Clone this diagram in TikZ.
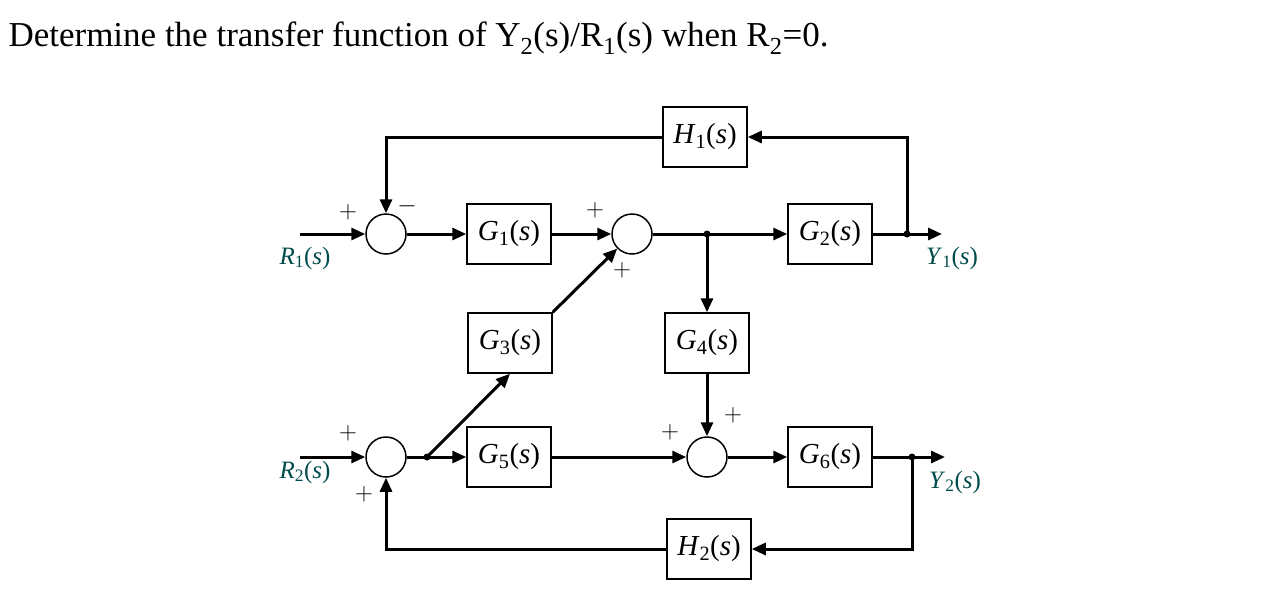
\documentclass[tikz,border=0pt]{standalone}
\usepackage{fontspec}
\setmainfont{Liberation Serif}
\usetikzlibrary{arrows.meta}
\newcommand{\tfn}[2]{\textit{#1}\textsubscript{#2}(\textit{s})}
\begin{document}
\begin{tikzpicture}[x=1pt,y=-1pt,
 blk/.style={draw,line width=1.5pt,minimum width=84pt,minimum height=60pt,font=\fontsize{29}{30}\selectfont,inner sep=0},
 sum/.style={draw,line width=1.5pt,circle,minimum size=40pt,inner sep=0},
 ln/.style={line width=3pt},
 ar/.style={ln,-{Triangle[length=14pt,width=12pt]}},
 sg/.style={font=\fontsize{26}{26}\selectfont},
 lab/.style={font=\fontsize{25}{27}\selectfont,text=teal!60!black}]
\useasboundingbox (0,0) rectangle (1266,606);
\node[anchor=west,font=\fontsize{35}{38}\selectfont] (t) at (5,38) {Determine the transfer function of Y\textsubscript{2}(s)/R\textsubscript{1}(s) when R\textsubscript{2}=0.};
\node[sum] (s1) at (386,234) {};
\node[sum] (s2) at (632,234) {};
\node[sum] (s3) at (386,457) {};
\node[sum] (s4) at (707,457) {};
\node[blk] (g1) at (509,234) {\tfn{G}{1}};
\node[blk] (g2) at (830,234) {\tfn{G}{2}};
\node[blk] (g3) at (510,343) {\tfn{G}{3}};
\node[blk] (g4) at (707,343) {\tfn{G}{4}};
\node[blk] (g5) at (509,457) {\tfn{G}{5}};
\node[blk] (g6) at (830,457) {\tfn{G}{6}};
\node[blk] (h1) at (705,137) {\tfn{H}{1}};
\node[blk] (h2) at (709,549) {\tfn{H}{2}};
\coordinate (r1) at (300,234);
\coordinate (r2) at (300,457);
\coordinate (y1) at (942,234);
\coordinate (y2) at (945,457);
\coordinate (b1) at (707,234);
\coordinate (b2) at (907,234);
\coordinate (b3) at (912,457);
\coordinate (b4) at (427,457);
\node[lab] (lr1) at (305,258) {\tfn{R}{1}};
\node[lab] (lr2) at (305,472) {\tfn{R}{2}};
\node[lab] (ly1) at (952,258) {\tfn{Y}{1}};
\node[lab] (ly2) at (955,482) {\tfn{Y}{2}};
\draw[ar] (r1) -- (s1);
\draw[ar] (s1) -- (g1);
\draw[ar] (g1) -- (s2);
\draw[ln] (s2) -- (b1);
\draw[ar] (b1) -- (g2);
\draw[ar] (g2) -- (y1);
\draw[ar] (b1) -- (g4);
\draw[ar] (b2) |- (h1);
\draw[ar] (h1) -| (s1);
\draw[ar] (r2) -- (s3);
\draw[ln] (s3) -- (b4);
\draw[ar] (b4) -- (g5);
\draw[ar] (b4) -- (g3.south);
\draw[ar] (g3.north east) -- (s2);
\draw[ar] (g5) -- (s4);
\draw[ar] (g4) -- (s4);
\draw[ar] (s4) -- (g6);
\draw[ar] (g6) -- (y2);
\draw[ar] (b3) |- (h2);
\draw[ar] (h2) -| (s3);
\fill (b1) circle (3.5pt) (b2) circle (3.5pt) (b3) circle (3.5pt) (b4) circle (3.5pt);
\node[sg] at (348,212) {$+$};
\node[sg] at (407,206) {$-$};
\node[sg] at (595,210) {$+$};
\node[sg] at (622,270) {$+$};
\node[sg] at (348,433) {$+$};
\node[sg] at (364,494) {$+$};
\node[sg] at (670,432) {$+$};
\node[sg] at (733,415) {$+$};
\end{tikzpicture}
\end{document}
